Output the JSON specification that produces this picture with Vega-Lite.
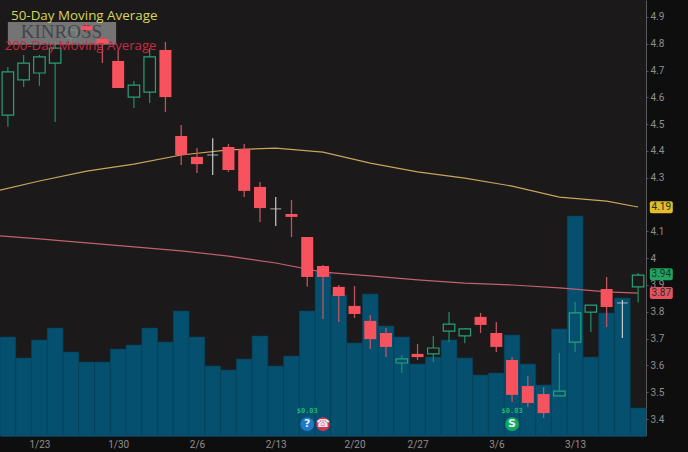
{
  "$schema": "https://vega.github.io/schema/vega-lite/v6.json",
  "width": 646,
  "height": 435,
  "autosize": "none",
  "padding": {"left": 0, "top": 0, "right": 42, "bottom": 17},
  "background": "#0f0e0e",
  "view": {"fill": "#1b1919", "stroke": null},
  "config": {"font": "Roboto"},
  "datasets": {
    "candles": [
      {"n": 0, "day": "1/19", "dir": "up", "open": 4.534, "close": 4.695, "high": 4.713, "low": 4.49, "volume": 98},
      {"n": 1, "day": "1/20", "dir": "up", "open": 4.665, "close": 4.728, "high": 4.758, "low": 4.639, "volume": 77},
      {"n": 2, "day": "1/23", "dir": "up", "open": 4.691, "close": 4.751, "high": 4.758, "low": 4.643, "volume": 95},
      {"n": 3, "day": "1/24", "dir": "up", "open": 4.728, "close": 4.784, "high": 4.807, "low": 4.508, "volume": 107},
      {"n": 4, "day": "1/25", "dir": "up", "open": 4.822, "close": 4.851, "high": 4.87, "low": 4.807, "volume": 83},
      {"n": 5, "day": "1/26", "dir": "down", "open": 4.866, "close": 4.852, "high": 4.881, "low": 4.844, "volume": 73},
      {"n": 6, "day": "1/27", "dir": "down", "open": 4.818, "close": 4.799, "high": 4.829, "low": 4.728, "volume": 73},
      {"n": 7, "day": "1/30", "dir": "down", "open": 4.736, "close": 4.635, "high": 4.777, "low": 4.635, "volume": 86},
      {"n": 8, "day": "1/31", "dir": "up", "open": 4.601, "close": 4.646, "high": 4.661, "low": 4.56, "volume": 90},
      {"n": 9, "day": "2/1", "dir": "up", "open": 4.62, "close": 4.751, "high": 4.784, "low": 4.579, "volume": 107},
      {"n": 10, "day": "2/2", "dir": "down", "open": 4.777, "close": 4.601, "high": 4.807, "low": 4.546, "volume": 93},
      {"n": 11, "day": "2/3", "dir": "down", "open": 4.456, "close": 4.385, "high": 4.497, "low": 4.348, "volume": 124},
      {"n": 12, "day": "2/6", "dir": "down", "open": 4.378, "close": 4.351, "high": 4.411, "low": 4.318, "volume": 98},
      {"n": 13, "day": "2/7", "dir": "doji", "open": 4.385, "close": 4.385, "high": 4.448, "low": 4.31, "volume": 69},
      {"n": 14, "day": "2/8", "dir": "down", "open": 4.415, "close": 4.329, "high": 4.426, "low": 4.322, "volume": 65},
      {"n": 15, "day": "2/9", "dir": "down", "open": 4.407, "close": 4.251, "high": 4.426, "low": 4.228, "volume": 76},
      {"n": 16, "day": "2/10", "dir": "down", "open": 4.266, "close": 4.187, "high": 4.284, "low": 4.135, "volume": 99},
      {"n": 17, "day": "2/13", "dir": "doji", "open": 4.184, "close": 4.184, "high": 4.228, "low": 4.12, "volume": 69},
      {"n": 18, "day": "2/14", "dir": "down", "open": 4.165, "close": 4.154, "high": 4.217, "low": 4.079, "volume": 79},
      {"n": 19, "day": "2/15", "dir": "down", "open": 4.079, "close": 3.93, "high": 4.079, "low": 3.893, "volume": 124},
      {"n": 20, "day": "2/16", "dir": "down", "open": 3.971, "close": 3.93, "high": 3.975, "low": 3.773, "volume": 163},
      {"n": 21, "day": "2/17", "dir": "down", "open": 3.893, "close": 3.859, "high": 3.9, "low": 3.762, "volume": 140},
      {"n": 22, "day": "2/20", "dir": "down", "open": 3.822, "close": 3.792, "high": 3.896, "low": 3.777, "volume": 92},
      {"n": 23, "day": "2/22", "dir": "down", "open": 3.766, "close": 3.698, "high": 3.788, "low": 3.661, "volume": 141},
      {"n": 24, "day": "2/23", "dir": "down", "open": 3.721, "close": 3.669, "high": 3.74, "low": 3.631, "volume": 109},
      {"n": 25, "day": "2/24", "dir": "up", "open": 3.609, "close": 3.624, "high": 3.639, "low": 3.572, "volume": 98},
      {"n": 26, "day": "2/27", "dir": "down", "open": 3.643, "close": 3.631, "high": 3.68, "low": 3.62, "volume": 71},
      {"n": 27, "day": "2/28", "dir": "up", "open": 3.643, "close": 3.665, "high": 3.71, "low": 3.613, "volume": 78},
      {"n": 28, "day": "3/1", "dir": "up", "open": 3.728, "close": 3.754, "high": 3.799, "low": 3.687, "volume": 95},
      {"n": 29, "day": "3/2", "dir": "up", "open": 3.71, "close": 3.736, "high": 3.74, "low": 3.683, "volume": 77},
      {"n": 30, "day": "3/3", "dir": "down", "open": 3.781, "close": 3.751, "high": 3.796, "low": 3.721, "volume": 60},
      {"n": 31, "day": "3/6", "dir": "down", "open": 3.721, "close": 3.669, "high": 3.762, "low": 3.65, "volume": 62},
      {"n": 32, "day": "3/7", "dir": "down", "open": 3.62, "close": 3.49, "high": 3.631, "low": 3.463, "volume": 100},
      {"n": 33, "day": "3/8", "dir": "down", "open": 3.523, "close": 3.46, "high": 3.56, "low": 3.445, "volume": 71},
      {"n": 34, "day": "3/9", "dir": "down", "open": 3.493, "close": 3.422, "high": 3.519, "low": 3.404, "volume": 50},
      {"n": 35, "day": "3/10", "dir": "up", "open": 3.486, "close": 3.504, "high": 3.646, "low": 3.486, "volume": 106},
      {"n": 36, "day": "3/13", "dir": "up", "open": 3.687, "close": 3.796, "high": 3.837, "low": 3.65, "volume": 219},
      {"n": 37, "day": "3/14", "dir": "up", "open": 3.799, "close": 3.825, "high": 3.825, "low": 3.725, "volume": 78},
      {"n": 38, "day": "3/15", "dir": "down", "open": 3.885, "close": 3.818, "high": 3.93, "low": 3.743, "volume": 122},
      {"n": 39, "day": "3/16", "dir": "doji", "open": 3.833, "close": 3.833, "high": 3.844, "low": 3.702, "volume": 137},
      {"n": 40, "day": "3/17", "dir": "up", "open": 3.893, "close": 3.937, "high": 3.945, "low": 3.836, "volume": 27}
    ],
    "averages": [
      {"n": -0.5, "ma50": 4.254, "ma200": 4.083},
      {"n": 2, "ma50": 4.288, "ma200": 4.072},
      {"n": 5, "ma50": 4.325, "ma200": 4.057},
      {"n": 8, "ma50": 4.351, "ma200": 4.042},
      {"n": 11, "ma50": 4.385, "ma200": 4.027},
      {"n": 14, "ma50": 4.404, "ma200": 4.008},
      {"n": 17, "ma50": 4.411, "ma200": 3.982},
      {"n": 20, "ma50": 4.396, "ma200": 3.948},
      {"n": 23, "ma50": 4.355, "ma200": 3.934},
      {"n": 26, "ma50": 4.322, "ma200": 3.919},
      {"n": 29, "ma50": 4.299, "ma200": 3.907},
      {"n": 32, "ma50": 4.269, "ma200": 3.9},
      {"n": 35, "ma50": 4.228, "ma200": 3.889},
      {"n": 38, "ma50": 4.213, "ma200": 3.874},
      {"n": 40, "ma50": 4.191, "ma200": 3.87}
    ],
    "flags": [
      {"n": 41.47, "price": 4.19, "series": "50-Day", "label": "4.19"},
      {"n": 41.47, "price": 3.94, "series": "Last", "label": "3.94"},
      {"n": 41.47, "price": 3.87, "series": "200-Day", "label": "3.87"}
    ],
    "events": [
      {"n": 19, "price": 3.381, "series": "earnings", "glyph": "?"},
      {"n": 20, "price": 3.381, "series": "call", "glyph": "☎"},
      {"n": 32, "price": 3.381, "series": "dividend", "glyph": "S"}
    ],
    "amounts": [
      {"n": 19, "price": 3.431, "label": "$0.03"},
      {"n": 32, "price": 3.431, "label": "$0.03"}
    ]
  },
  "encoding": {
    "x": {
      "field": "n",
      "type": "quantitative",
      "scale": {"domain": [-0.5, 40.5], "nice": false, "zero": false, "padding": 0},
      "axis": {
        "title": null,
        "grid": false,
        "ticks": false,
        "values": [2, 7, 12, 17, 22, 26, 31, 36],
        "labelExpr": "{'2':'1/23','7':'1/30','12':'2/6','17':'2/13','22':'2/20','26':'2/27','31':'3/6','36':'3/13'}[datum.value]",
        "labelColor": "#8f8f8f",
        "labelFontSize": 10,
        "labelPadding": 4,
        "domainColor": "#0b5f80",
        "domainWidth": 2
      }
    }
  },
  "layer": [
    {
      "data": {"name": "candles"},
      "mark": {"type": "bar", "orient": "vertical", "width": 15.75, "color": "#05506e", "stroke": "#06425b", "strokeWidth": 0.6},
      "encoding": {
        "y": {"field": "volume", "type": "quantitative", "scale": {"domain": [0, 435]}, "axis": null}
      }
    },
    {
      "resolve": {"axis": {"y": "independent"}},
      "layer": [
        {
          "data": {"name": "averages"},
          "mark": {"type": "line", "color": "#c9a45c", "strokeWidth": 1.2},
          "encoding": {
            "y": {
              "field": "ma50",
              "type": "quantitative",
              "scale": {"domain": [3.3403, 4.9634], "nice": false, "zero": false},
              "axis": {
                "title": null,
                "orient": "right",
                "grid": false,
                "values": [3.4, 3.5, 3.6, 3.7, 3.8, 3.9, 4, 4.1, 4.3, 4.4, 4.5, 4.6, 4.7, 4.8, 4.9],
                "format": "~g",
                "labelOverlap": false,
                "labelColor": "#8f8f8f",
                "labelFontSize": 10,
                "labelPadding": 2,
                "tickColor": "#555555",
                "tickSize": 2,
                "domainColor": "#5a5a5a"
              }
            }
          }
        },
        {
          "data": {"name": "averages"},
          "mark": {"type": "line", "color": "#c2606e", "strokeWidth": 1.2},
          "encoding": {
            "y": {"field": "ma200", "type": "quantitative", "axis": null}
          }
        },
        {
          "data": {"name": "candles"},
          "transform": [{"filter": "datum.dir == 'up'"}],
          "layer": [
            {
              "mark": {"type": "rule", "color": "#1f8f68", "strokeWidth": 1.2},
              "encoding": {
                "y": {"field": "high", "type": "quantitative", "axis": null},
                "y2": {"field": "close"}
              }
            },
            {
              "mark": {"type": "rule", "color": "#1f8f68", "strokeWidth": 1.2},
              "encoding": {
                "y": {"field": "open", "type": "quantitative", "axis": null},
                "y2": {"field": "low"}
              }
            },
            {
              "mark": {"type": "bar", "orient": "vertical", "width": 11.5, "fill": null, "stroke": "#26a17b", "strokeWidth": 1.2},
              "encoding": {
                "y": {"field": "open", "type": "quantitative", "axis": null},
                "y2": {"field": "close"}
              }
            }
          ]
        },
        {
          "data": {"values": [{"n": 0, "n2": 6.87, "top": 4.881, "bottom": 4.796}]},
          "mark": {"type": "rect", "color": "#8b8b8b", "opacity": 0.8},
          "encoding": {
            "x2": {"field": "n2"},
            "y": {"field": "top", "type": "quantitative", "axis": null},
            "y2": {"field": "bottom"}
          }
        },
        {
          "data": {"values": [{"n": 3.4, "price": 4.845, "label": "KINROSS"}]},
          "mark": {"type": "text", "font": "Liberation Serif", "fontSize": 19, "color": "#3c4248", "opacity": 0.9},
          "encoding": {
            "y": {"field": "price", "type": "quantitative", "axis": null},
            "text": {"field": "label"}
          }
        },
        {
          "data": {"name": "candles"},
          "transform": [{"filter": "datum.dir == 'down'"}],
          "layer": [
            {
              "mark": {"type": "rule", "color": "#bd5560", "strokeWidth": 1.3},
              "encoding": {
                "y": {"field": "high", "type": "quantitative", "axis": null},
                "y2": {"field": "low"}
              }
            },
            {
              "mark": {"type": "bar", "orient": "vertical", "width": 12, "color": "#f9525f"},
              "encoding": {
                "y": {"field": "open", "type": "quantitative", "axis": null},
                "y2": {"field": "close"}
              }
            }
          ]
        },
        {
          "data": {"name": "candles"},
          "transform": [{"filter": "datum.dir == 'doji'"}],
          "layer": [
            {
              "mark": {"type": "rule", "color": "#c4cccc", "strokeWidth": 1.2},
              "encoding": {
                "y": {"field": "high", "type": "quantitative", "axis": null},
                "y2": {"field": "low"}
              }
            },
            {
              "mark": {"type": "tick", "orient": "horizontal", "color": "#c4cccc", "size": 11, "thickness": 1.2},
              "encoding": {
                "y": {"field": "close", "type": "quantitative", "axis": null}
              }
            }
          ]
        },
        {
          "data": {"values": [{"n": 0.2, "price": 4.904, "label": "50-Day Moving Average"}]},
          "mark": {"type": "text", "align": "left", "font": "Open Sans", "fontSize": 13.4, "color": "#d6d65a"},
          "encoding": {
            "y": {"field": "price", "type": "quantitative", "axis": null},
            "text": {"field": "label"}
          }
        },
        {
          "data": {"values": [{"n": -0.2, "price": 4.79, "label": "200-Day Moving Average"}]},
          "mark": {"type": "text", "align": "left", "font": "Open Sans", "fontSize": 13.2, "color": "#c92a43"},
          "encoding": {
            "y": {"field": "price", "type": "quantitative", "axis": null},
            "text": {"field": "label"}
          }
        },
        {
          "data": {"name": "flags"},
          "mark": {"type": "rect", "width": 23, "height": 12, "cornerRadius": 2},
          "encoding": {
            "y": {"field": "price", "type": "quantitative", "axis": null},
            "color": {
              "field": "series",
              "type": "nominal",
              "legend": null,
              "scale": {
                "domain": ["50-Day", "Last", "200-Day", "earnings", "call", "dividend"],
                "range": ["#e3bd2b", "#1fa35f", "#e8505f", "#1f78c8", "#d8304f", "#14a860"]
              }
            }
          }
        },
        {
          "data": {"name": "flags"},
          "mark": {"type": "text", "fontSize": 10, "color": "#20302a"},
          "encoding": {
            "y": {"field": "price", "type": "quantitative", "axis": null},
            "text": {"field": "label"}
          }
        },
        {
          "data": {"name": "events"},
          "mark": {"type": "point", "filled": true, "opacity": 1, "size": 190},
          "encoding": {
            "y": {"field": "price", "type": "quantitative", "axis": null},
            "color": {"field": "series", "type": "nominal", "legend": null}
          }
        },
        {
          "data": {"name": "events"},
          "mark": {"type": "text", "font": "DejaVu Sans", "fontSize": 11, "fontWeight": "bold", "color": "#e3edf2"},
          "encoding": {
            "y": {"field": "price", "type": "quantitative", "axis": null},
            "text": {"field": "glyph"}
          }
        },
        {
          "data": {"name": "amounts"},
          "mark": {"type": "text", "font": "DejaVu Sans Mono", "fontSize": 7, "fontWeight": "bold", "color": "#1fb56e"},
          "encoding": {
            "y": {"field": "price", "type": "quantitative", "axis": null},
            "text": {"field": "label"}
          }
        }
      ]
    }
  ],
  "resolve": {"scale": {"y": "independent"}}
}
